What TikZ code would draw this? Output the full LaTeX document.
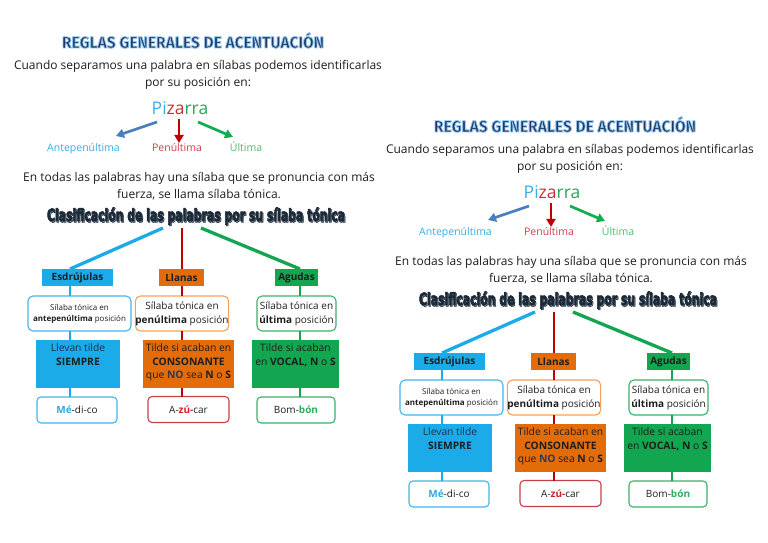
\documentclass[tikz,border=0pt]{standalone}
\usepackage{fontspec}
\setmainfont{Open Sans}
\newfontfamily\titlefont{Fira Sans}
\newfontfamily\heavyfont{DejaVu Sans}
\usetikzlibrary{arrows.meta,calc}
\definecolor{navy}{HTML}{1F3864}
\definecolor{clasif}{HTML}{1C2A38}
\definecolor{clshadow}{HTML}{8C99A8}
\definecolor{lblue}{HTML}{1AABE8}
\definecolor{bordblue}{HTML}{41B6EA}
\definecolor{sblue}{HTML}{4A7EBF}
\definecolor{dred}{HTML}{C00000}
\definecolor{orangeF}{HTML}{E36C0A}
\definecolor{bordorange}{HTML}{F2A25E}
\definecolor{bordred}{HTML}{C8404C}
\definecolor{gfill}{HTML}{13A550}
\definecolor{garrow}{HTML}{10AE50}
\definecolor{bordgreen}{HTML}{3DB16A}
\definecolor{txt}{HTML}{1E1E1E}
\definecolor{txtnavy}{HTML}{203050}
\definecolor{nocol}{HTML}{2B3A55}
\definecolor{piblue}{HTML}{3DAEE6}
\definecolor{zared}{HTML}{D42A35}
\definecolor{rragreen}{HTML}{23A957}
\definecolor{antcol}{HTML}{35AEE8}
\definecolor{pencol}{HTML}{D43F4A}
\definecolor{ultcol}{HTML}{4DBE70}
\definecolor{mecol}{HTML}{2FA8E0}
\definecolor{zucol}{HTML}{D0202A}
\definecolor{boncol}{HTML}{2EAE5C}

% text filled in the current colour and outlined in a given stroke colour (one copy only)
\newcommand\outlinedtext[3]{% stroke rgb, width, text
 \special{pdf:literal direct 2 Tr #2 w #1 RG}#3\special{pdf:literal direct 0 Tr}}
\newcommand\shadowtext[3]{{\setbox0=\hbox{#3}%
 \rlap{\color{#1}\kern1.2bp\raisebox{-1bp}{\copy0}}%
 {\color{#2}\box0}}}

\tikzset{
 every node/.style={inner sep=0pt, outer sep=0pt, text=txt},
 bodytxt/.style={align=center, font=\fontsize{12bp}{17bp}\selectfont},
 postxt/.style={font=\fontsize{10.5bp}{12bp}\selectfont, anchor=base},
 hdr/.style={minimum height=17bp, font=\fontsize{10bp}{12bp}\selectfont\bfseries, text=txt},
 rtwo/.style={draw, fill=white, rounded corners=5bp, line width=1.1bp, minimum height=35bp, align=center},
 rthree/.style={minimum height=48bp},
 rthreetxt/.style={anchor=north, yshift=-4bp, align=center, font=\fontsize{10.3bp}{13.5bp}\selectfont},
 rfour/.style={draw, fill=white, rounded corners=4bp, line width=1.1bp, minimum height=26bp, font=\fontsize{10bp}{12bp}\selectfont},
 conn/.style={line width=2.2bp},
 diag/.style={line width=3.3bp},
 arr/.style={line width=2.7bp, -{Triangle[length=8bp,width=9bp]}},
}

\newcommand\acentdiagram[1]{%
 \node[anchor=base, text=navy] (#1-title) at (193,48)
   {\resizebox{262bp}{15.5bp}{\titlefont\fontsize{20bp}{20bp}\selectfont\bfseries\outlinedtext{0.56 0.765 0.925}{1.1}{REGLAS GENERALES DE ACENTUACIÓN}}};
 \node[bodytxt] (#1-intro) at (198,75) {Cuando separamos una palabra en sílabas podemos identificarlas\\por su posición en:};
 \node[anchor=base, font=\fontsize{17.5bp}{20bp}\selectfont] (#1-piz) at (180,115)
   {\textcolor{piblue}{Pi}\textcolor{zared}{za}\textcolor{rragreen}{rra}};
 \node[postxt, text=antcol] (#1-ante) at (83.5,152) {Antepenúltima};
 \node[postxt, text=pencol] (#1-pen) at (177,152) {Penúltima};
 \node[postxt, text=ultcol] (#1-ult) at (246,152) {Última};
 \coordinate (#1-abs) at (157,122); \coordinate (#1-abe) at (116,136);
 \coordinate (#1-ars) at (179,119); \coordinate (#1-are) at (179,143);
 \coordinate (#1-ags) at (198,122); \coordinate (#1-age) at (233,137);
 \draw[arr, sblue] (#1-abs) -- (#1-abe);
 \draw[arr, dred] (#1-ars) -- (#1-are);
 \draw[arr, garrow] (#1-ags) -- (#1-age);
 \node[bodytxt] (#1-todas) at (199,186) {En todas las palabras hay una sílaba que se pronuncia con más\\fuerza, se llama sílaba tónica.};
 \node[anchor=base] (#1-clas) at (196,221)
   {\resizebox{298bp}{13.5bp}{\shadowtext{clshadow}{clasif}{\heavyfont\fontsize{14bp}{14bp}\selectfont\bfseries\outlinedtext{0.11 0.165 0.22}{0.6}{Clasificación de las palabras por su sílaba tónica}}}};
 % column x positions of the vertical connectors
 \coordinate (#1-xe) at (70,0);
 \coordinate (#1-xl) at (182,0);
 \coordinate (#1-xa) at (300,0);
 \coordinate (#1-cb) at (163,228);
 \coordinate (#1-cr) at (182,228);
 \coordinate (#1-cg) at (201,228);
 % headers
 \node[hdr, fill=lblue, minimum width=71bp] (#1-eh) at (77.5,277.5) {Esdrújulas};
 \node[hdr, fill=orangeF, minimum width=45bp] (#1-lh) at (181.5,277.5) {Llanas};
 \node[hdr, fill=gfill, minimum width=43bp] (#1-ah) at (296.5,277.5) {Agudas};
 % row 2
 \node[rtwo, draw=bordblue, minimum width=103bp, font=\fontsize{8bp}{11bp}\selectfont] (#1-e2) at (79.5,313.5)
   {Sílaba tónica en\\\textbf{antepenúltima} posición};
 \node[rtwo, draw=bordorange, minimum width=92bp, font=\fontsize{10bp}{14bp}\selectfont] (#1-l2) at (182,313.5)
   {Sílaba tónica en\\\textbf{penúltima} posición};
 \node[rtwo, draw=bordgreen, minimum width=79bp, font=\fontsize{10bp}{14bp}\selectfont] (#1-a2) at (296.5,313.5)
   {Sílaba tónica en\\\textbf{última} posición};
 % row 3
 \node[rthree, fill=lblue, minimum width=84bp,
   label={[rthreetxt]north:{\textcolor{txtnavy}{Llevan tilde}\\\textbf{SIEMPRE}}}] (#1-e3) at (78,364) {};
 \node[rthree, fill=orangeF, minimum width=91bp,
   label={[rthreetxt]north:{Tilde si acaban en\\\textbf{CONSONANTE}\\que \textbf{\textcolor{nocol}{NO}} sea \textbf{N} o \textbf{S}}}] (#1-l3) at (188.5,364) {};
 \node[rthree, fill=gfill, minimum width=87bp,
   label={[rthreetxt]north:{Tilde si acaban\\en \textbf{VOCAL, N} o \textbf{S}}}] (#1-a3) at (295.5,364) {};
 % row 4
 \node[rfour, draw=bordblue, minimum width=80bp] (#1-e4) at (77,410)
   {\textcolor{mecol}{\textbf{Mé}}-di-co};
 \node[rfour, draw=bordred, minimum width=81bp] (#1-l4) at (188.5,409.5)
   {A-\textcolor{zucol}{\textbf{zú-}}car};
 \node[rfour, draw=bordgreen, minimum width=78bp] (#1-a4) at (296,410)
   {Bom-\textcolor{boncol}{\textbf{bón}}};
 % connectors from the classification title
 \draw[diag, lblue] (#1-cb) -- (#1-eh.north -| #1-xe);
 \draw[line width=2.4bp, dred] (#1-cr) -- (#1-lh.north -| #1-xl);
 \draw[diag, gfill] (#1-cg) -- (#1-ah.north -| #1-xa);
 % vertical connectors
 \draw[conn, lblue] (#1-eh.south -| #1-xe) -- (#1-e2.north -| #1-xe);
 \draw[conn, lblue] (#1-e2.south -| #1-xe) -- (#1-e3.north -| #1-xe);
 \draw[conn, lblue] (#1-e3.south -| #1-xe) -- (#1-e4.north -| #1-xe);
 \draw[conn, dred] (#1-lh.south -| #1-xl) -- (#1-l2.north -| #1-xl);
 \draw[conn, dred] (#1-l2.south -| #1-xl) -- (#1-l3.north -| #1-xl);
 \draw[conn, dred] (#1-l3.south -| #1-xl) -- (#1-l4.north -| #1-xl);
 \draw[conn, gfill] (#1-ah.south -| #1-xa) -- (#1-a2.north -| #1-xa);
 \draw[conn, gfill] (#1-a2.south -| #1-xa) -- (#1-a3.north -| #1-xa);
 \draw[conn, gfill] (#1-a3.south -| #1-xa) -- (#1-a4.north -| #1-xa);
}

\begin{document}
\begin{tikzpicture}[x=1bp, y=-1bp]
 \useasboundingbox[fill=white] (0,0) rectangle (768,543);
 \begin{scope}
  \acentdiagram{L}
 \end{scope}
 \begin{scope}[shift={(372,84)}]
  \acentdiagram{R}
 \end{scope}
\end{tikzpicture}
\end{document}
